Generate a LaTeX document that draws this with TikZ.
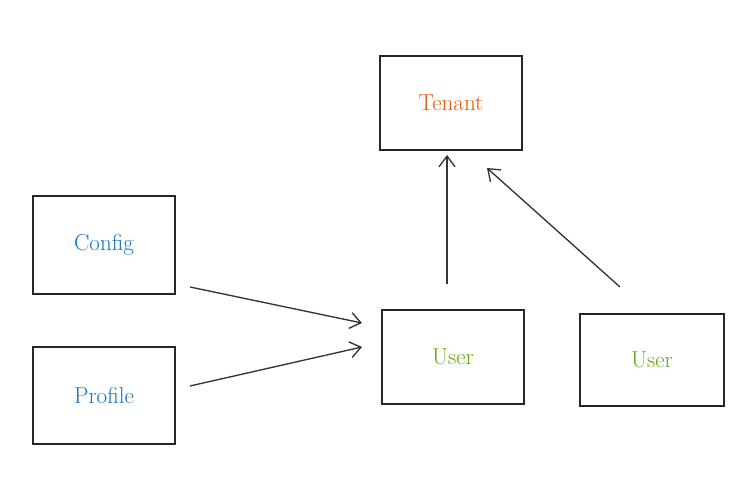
\documentclass[tikz,border=0pt]{standalone}
\usepackage{tikz}
\usetikzlibrary{arrows.meta}
\definecolor{tenantred}{HTML}{E8590C}
\definecolor{cfgblue}{HTML}{1971C2}
\definecolor{usergreen}{HTML}{66A80F}
\newlength{\pxu}\setlength{\pxu}{0.75pt}
\tikzset{
  box/.style={draw=black!85, line width=1pt, minimum width=142\pxu, minimum height=94\pxu, inner sep=0pt, font=\LARGE},
  link/.style={draw=black!80, line width=1pt, -{Straight Barb[length=8pt,width=12pt]}}
}
\begin{document}
\begin{tikzpicture}[x=0.75pt,y=-0.75pt]
  \useasboundingbox (0,0) rectangle (754,481);
  \node[box, text=tenantred] (tenant) at (451,103) {Tenant};
  \node[box, text=cfgblue, minimum height=98\pxu] (config) at (104,245) {Config};
  \node[box, text=cfgblue, minimum height=97\pxu] (profile) at (104,395.5) {Profile};
  \node[box, text=usergreen] (user) at (453,357) {User};
  \node[box, text=usergreen, minimum width=144\pxu, minimum height=92\pxu] (userb) at (652,360) {User};
  \coordinate (cfgout) at (190,287);
  \coordinate (proout) at (190,386);
  \coordinate (userin) at (362,323);
  \coordinate (userin2) at (362,347);
  \coordinate (userout) at (447,284);
  \coordinate (tenin) at (447,155);
  \coordinate (userbout) at (620,287);
  \coordinate (tenin2) at (487,168);
  \path[link] (cfgout) -- (userin);
  \path[link] (proout) -- (userin2);
  \path[link] (userout) -- (tenin);
  \path[link] (userbout) -- (tenin2);
\end{tikzpicture}
\end{document}
